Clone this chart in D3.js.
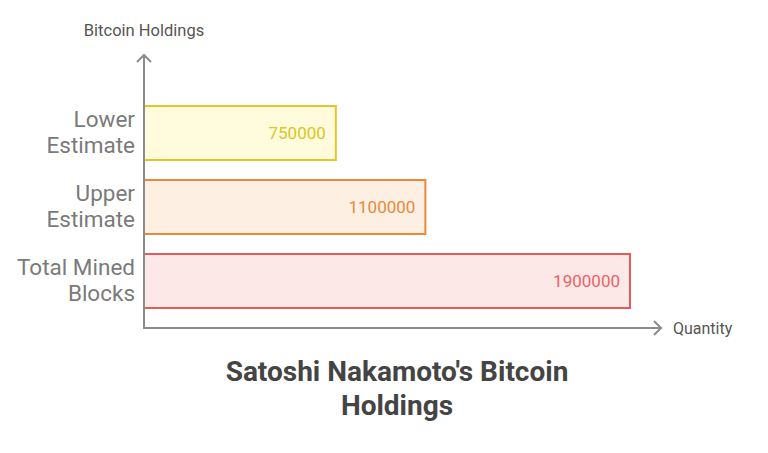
<!DOCTYPE html>
<html>
<head>
<meta charset="utf-8">
<script src="https://cdn.jsdelivr.net/npm/d3@7"></script>
<style>
  body { margin: 0; background: #fff; }
  text { font-family: Roboto, "Noto Sans", sans-serif; }
</style>
</head>
<body>
<div id="chart"></div>
<script>
// data
var categories = [["Lower", "Estimate"], ["Upper", "Estimate"], ["Total Mined", "Blocks"]];
var values = [750000, 1100000, 1900000];
var strokes = ["#e0c82a", "#e8893c", "#e65a5a"];
var fills = ["#fffbdc", "#fdf0e2", "#fde8e8"];
var labelColors = ["#dcc61f", "#e8893c", "#e86464"];

var width = 768, height = 453;

var svg = d3.select("#chart")
    .append("svg")
    .attr("width", width)
    .attr("height", height);

// scales
var x = d3.scaleLinear().domain([0, 1900000]).range([144, 630]);
var y = d3.scaleBand()
    .domain(d3.range(values.length))
    .range([98.6, 315.4])
    .paddingInner(0.27)
    .paddingOuter(0.1);

var axisColor = "#8c8c8c";

// bars
svg.selectAll("rect.bar")
    .data(values)
    .enter()
    .append("rect")
    .attr("class", "bar")
    .attr("x", x(0))
    .attr("y", function(d, i) { return y(i); })
    .attr("width", function(d) { return x(d) - x(0); })
    .attr("height", y.bandwidth())
    .attr("fill", function(d, i) { return fills[i]; })
    .attr("stroke", function(d, i) { return strokes[i]; })
    .attr("stroke-width", 2);

// value labels
svg.selectAll("text.val")
    .data(values)
    .enter()
    .append("text")
    .attr("class", "val")
    .attr("x", function(d) { return x(d) - 10; })
    .attr("y", function(d, i) { return y(i) + y.bandwidth() / 2; })
    .attr("dy", "0.35em")
    .attr("text-anchor", "end")
    .attr("font-size", 17)
    .attr("fill", function(d, i) { return labelColors[i]; })
    .text(function(d) { return d; });

// category labels (two lines each)
var cat = svg.selectAll("text.cat")
    .data(categories)
    .enter()
    .append("text")
    .attr("class", "cat")
    .attr("text-anchor", "end")
    .attr("font-size", 22.5)
    .attr("fill", "#7a7a7a");

cat.each(function(lines, i) {
    var t = d3.select(this);
    var mid = y(i) + y.bandwidth() / 2;
    lines.forEach(function(line, k) {
        t.append("tspan")
            .attr("x", 135)
            .attr("y", mid + (k === 0 ? -13 : 13))
            .attr("dy", "0.33em")
            .text(line);
    });
});

// axes lines with arrow heads
svg.append("line")
    .attr("x1", 144).attr("y1", 328)
    .attr("x2", 144).attr("y2", 55)
    .attr("stroke", axisColor).attr("stroke-width", 2);
svg.append("path")
    .attr("d", "M137,62 L144,55 L151,62")
    .attr("fill", "none").attr("stroke", axisColor).attr("stroke-width", 2);

svg.append("line")
    .attr("x1", 143).attr("y1", 328)
    .attr("x2", 661).attr("y2", 328)
    .attr("stroke", axisColor).attr("stroke-width", 2);
svg.append("path")
    .attr("d", "M654,321 L661,328 L654,335")
    .attr("fill", "none").attr("stroke", axisColor).attr("stroke-width", 2);

// axis titles
svg.append("text")
    .attr("x", 144)
    .attr("y", 36)
    .attr("text-anchor", "middle")
    .attr("font-size", 16.5)
    .attr("fill", "#555")
    .text("Bitcoin Holdings");

svg.append("text")
    .attr("x", 673)
    .attr("y", 334)
    .attr("font-size", 16)
    .attr("fill", "#555")
    .text("Quantity");

// title
var title = svg.append("text")
    .attr("text-anchor", "middle")
    .attr("font-size", 28)
    .attr("font-weight", "bold")
    .attr("fill", "#444");
title.append("tspan").attr("x", 397).attr("y", 381).text("Satoshi Nakamoto's Bitcoin");
title.append("tspan").attr("x", 397).attr("y", 415).text("Holdings");
</script>
</body>
</html>
